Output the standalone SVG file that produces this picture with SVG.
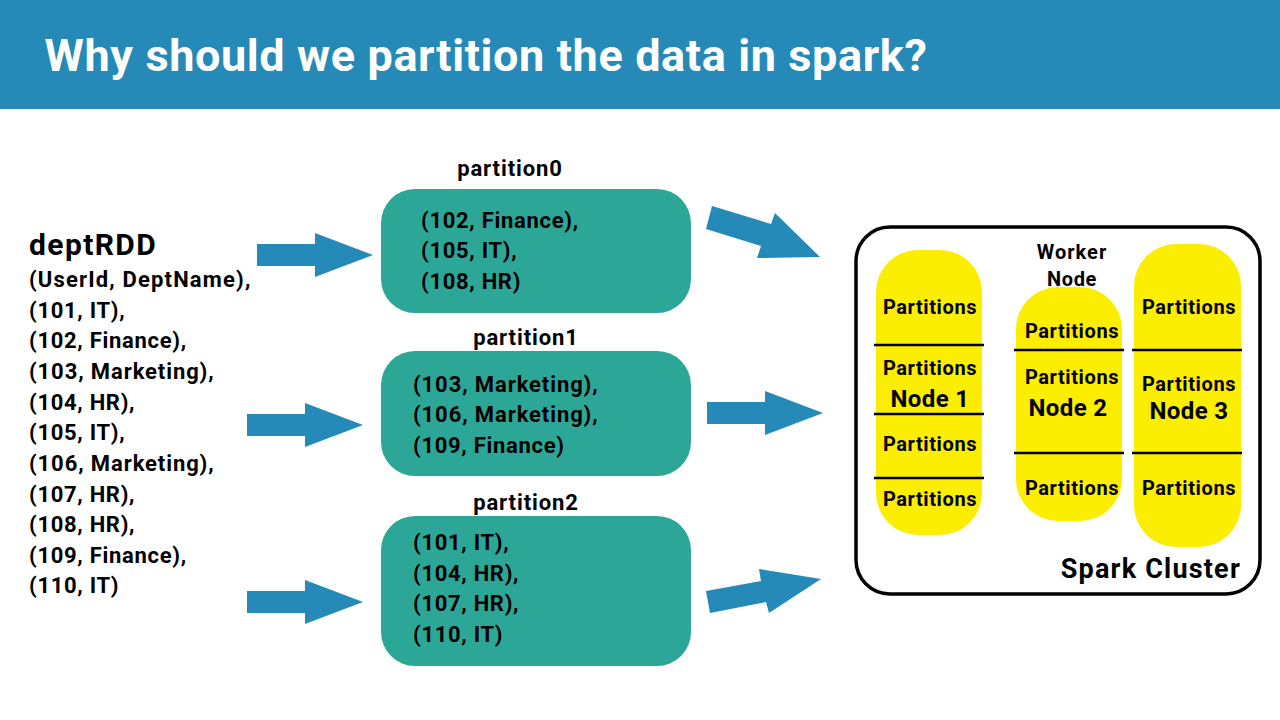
<svg xmlns="http://www.w3.org/2000/svg" width="1280" height="720" viewBox="0 0 1280 720">
<style>
text{font-family:"Roboto","Noto Sans","Liberation Sans",sans-serif;fill:#000;font-weight:700}
.t{font-size:22px;letter-spacing:.7px}
.m{letter-spacing:.9px}
.h{font-size:22px;letter-spacing:.9px;text-anchor:middle}
.p{font-size:20px;text-anchor:middle;letter-spacing:.6px}
.n{font-size:24px;text-anchor:middle;letter-spacing:.4px}
.g{fill:#2ca797}
.y{fill:#fcee00}
.a{fill:#268ab8}
.l{stroke:#000;stroke-width:2.5;fill:none}
</style>
<rect width="1280" height="720" fill="#fff"/>
<g id="header"><rect width="1280" height="109" fill="#268ab8"/>
<text x="44.500" y="71" style="fill:#fff;font-size:45px;font-weight:700;letter-spacing:.62px">Why should we partition the data in spark?</text></g>
<g id="deptRDD"><text x="29" y="255" style="font-size:30px;letter-spacing:1.4px">deptRDD</text>
<text class="t" x="29" y="287" textLength="222">(UserId, DeptName),</text>
<text class="t" x="29" y="318">(101, IT),</text>
<text class="t" x="29" y="348">(102, Finance),</text>
<text class="t m" x="29" y="379">(103, Marketing),</text>
<text class="t" x="29" y="410">(104, HR),</text>
<text class="t" x="29" y="440">(105, IT),</text>
<text class="t m" x="29" y="471">(106, Marketing),</text>
<text class="t" x="29" y="502">(107, HR),</text>
<text class="t" x="29" y="532">(108, HR),</text>
<text class="t" x="29" y="563">(109, Finance),</text>
<text class="t" x="29" y="593">(110, IT)</text></g>
<g id="partition0"><text class="h" x="510" y="176">partition0</text>
<rect class="g" x="381" y="189" width="310" height="124" rx="34"/>
<text class="t" x="421" y="228">(102, Finance),</text><text class="t" x="421" y="258">(105, IT),</text><text class="t" x="421" y="289">(108, HR)</text></g>
<g id="partition1"><text class="h" x="526" y="345">partition1</text>
<rect class="g" x="381" y="351" width="310" height="125" rx="34"/>
<text class="t m" x="413" y="392">(103, Marketing),</text><text class="t m" x="413" y="422">(106, Marketing),</text><text class="t" x="413" y="453">(109, Finance)</text></g>
<g id="partition2"><text class="h" x="526" y="510">partition2</text>
<rect class="g" x="381" y="516" width="310" height="150" rx="34"/>
<text class="t" x="413" y="550">(101, IT),</text><text class="t" x="413" y="581">(104, HR),</text><text class="t" x="413" y="611">(107, HR),</text><text class="t" x="413" y="642">(110, IT)</text></g>
<g id="connectors" class="a">
<polygon points="257,244 315,244 315,233 373,255 315,277 315,266 257,266"/>
<polygon points="247,414 305,414 305,403 363,425 305,447 305,436 247,436"/>
<polygon points="247,591 305,591 305,580 363,602 305,624 305,613 247,613"/>
<polygon points="712,206 771,224 775,213 820,257 757,258 761,246 706,229"/>
<polygon points="707,402 765,402 765,391 823,413 765,435 765,424 707,424"/>
<polygon points="706,591 761,581 759,569 821,579 769,613 766,602 710,613"/>
</g>
<g id="cluster"><rect x="856" y="227" width="404" height="367" rx="34" fill="#fff" stroke="#000" stroke-width="3.5"/>
<text x="1241" y="578" text-anchor="end" style="font-size:27px;letter-spacing:1.2px">Spark Cluster</text>
<text class="p" x="1072" y="259" style="letter-spacing:1px">Worker</text><text class="p" x="1072" y="286">Node</text></g>
<g id="node1"><rect class="y" x="876" y="250" width="106" height="285" rx="42"/>
<line class="l" x1="874" y1="345" x2="984" y2="345"/><line class="l" x1="874" y1="414" x2="984" y2="414"/><line class="l" x1="874" y1="478" x2="984" y2="478"/>
<text class="p" x="930" y="314">Partitions</text><text class="p" x="930" y="375">Partitions</text><text class="n" x="930" y="407">Node 1</text><text class="p" x="930" y="451">Partitions</text><text class="p" x="930" y="506">Partitions</text></g>
<g id="node2"><rect class="y" x="1016" y="287" width="106" height="234" rx="42"/>
<line class="l" x1="1014" y1="350" x2="1124" y2="350"/><line class="l" x1="1014" y1="453" x2="1124" y2="453"/>
<text class="p" x="1072" y="338">Partitions</text><text class="p" x="1072" y="384">Partitions</text><text class="n" x="1068" y="416">Node 2</text><text class="p" x="1072" y="495">Partitions</text></g>
<g id="node3"><rect class="y" x="1134" y="244" width="107" height="303" rx="42"/>
<line class="l" x1="1132" y1="350" x2="1242" y2="350"/><line class="l" x1="1132" y1="453" x2="1242" y2="453"/>
<text class="p" x="1189" y="314">Partitions</text><text class="p" x="1189" y="391">Partitions</text><text class="n" x="1189" y="419">Node 3</text><text class="p" x="1189" y="495">Partitions</text></g>
</svg>
